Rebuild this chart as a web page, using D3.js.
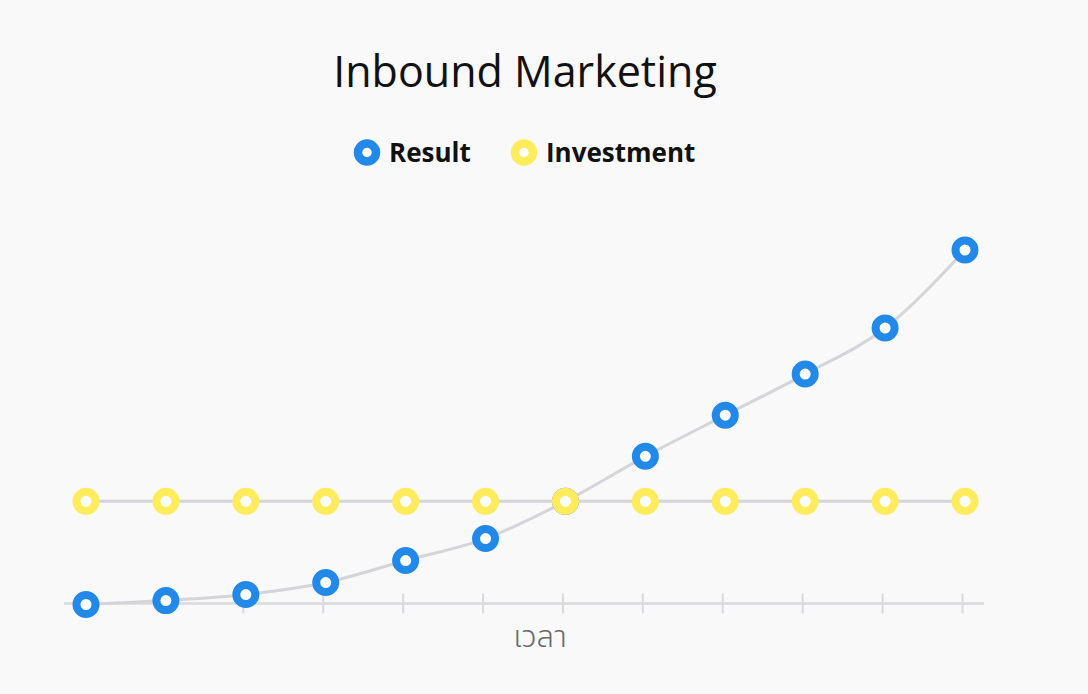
<!DOCTYPE html>
<html><head><meta charset="utf-8">
<script src="https://cdn.jsdelivr.net/npm/d3@7"></script>
<style>
html,body{margin:0;padding:0;background:#f9f9fa;}
svg{display:block;}
</style></head>
<body>
<svg id="chart" width="1088" height="694"></svg>
<script>
const categories = ["1","2","3","4","5","6","7","8","9","10","11","12"];
const resultValues = [0, 1.1, 2.8, 6.2, 12.4, 18.6, 29.1, 41.8, 53.4, 65, 78, 100];
const investmentValues = [29.1, 29.1, 29.1, 29.1, 29.1, 29.1, 29.1, 29.1, 29.1, 29.1, 29.1, 29.1];
const seriesNames = ["Result", "Investment"];
const seriesColors = ["#2389e9", "#ffec5c"];
const title = "Inbound Marketing";
const xAxisLabel = "เวลา";

const svg = d3.select("#chart");
svg.append("rect").attr("width",1088).attr("height",694).attr("fill","#f9f9fa");

const x = d3.scalePoint().domain(categories).range([86, 965]);
const y = d3.scaleLinear().domain([0, 100]).range([604.5, 250]);

// title
svg.append("text").attr("x", 525).attr("y", 87).attr("text-anchor","middle")
  .attr("font-family","'Open Sans', 'Noto Sans', sans-serif").attr("font-size", 43).attr("font-weight", 400)
  .attr("fill","#111").text(title);

// legend
const legendX = [367, 524];
seriesNames.forEach((n,i)=>{
  svg.append("circle").attr("cx", legendX[i]).attr("cy", 152.5).attr("r", 9).attr("fill","#fff")
    .attr("stroke", seriesColors[i]).attr("stroke-width", 8.5);
  svg.append("text").attr("x", legendX[i]+22).attr("y", 161.5).attr("font-family","'Open Sans', 'Noto Sans', sans-serif")
    .attr("font-size", 26).attr("font-weight", 700).attr("fill","#111").text(n);
});

// x axis
const axisG = svg.append("g").attr("transform", `translate(-3, ${y(0) - 1})`);
const axis = d3.axisBottom(x).tickSize(10).tickFormat("").tickSizeOuter(0);
axisG.call(axis);
axisG.select(".domain").remove();
axisG.selectAll(".tick line").attr("stroke","#d9d9de").attr("stroke-width",2).attr("y1",-10).attr("y2",10);
svg.append("line").attr("x1", x(categories[0]) - 22).attr("x2", x(categories[categories.length-1]) + 19)
  .attr("y1", y(0) - 1).attr("y2", y(0) - 1).attr("stroke","#d9d9de").attr("stroke-width",2.5);

svg.append("text").attr("x", 540).attr("y", 647).attr("text-anchor","middle")
  .attr("font-family","'Noto Sans Thai', 'Noto Sans', 'DejaVu Sans', sans-serif").attr("font-size", 31)
  .attr("font-weight", 300).attr("fill","#6a6a6a").text(xAxisLabel);

// lines
const line = d3.line().x((d,i)=>x(categories[i])).y(d=>y(d)).curve(d3.curveMonotoneX);
[investmentValues, resultValues].forEach(vals=>{
  svg.append("path").attr("d", line(vals)).attr("fill","none").attr("stroke","#d4d4d9").attr("stroke-width",3);
});

// points
function drawPoints(vals, color){
  svg.append("g").selectAll("circle").data(vals).join("circle")
    .attr("cx",(d,i)=>x(categories[i])).attr("cy",d=>y(d)).attr("r",9.5)
    .attr("fill","#fbfdff").attr("stroke",color).attr("stroke-width",8);
}
drawPoints(resultValues, seriesColors[0]);
drawPoints(investmentValues, seriesColors[1]);
</script>
</body></html>
